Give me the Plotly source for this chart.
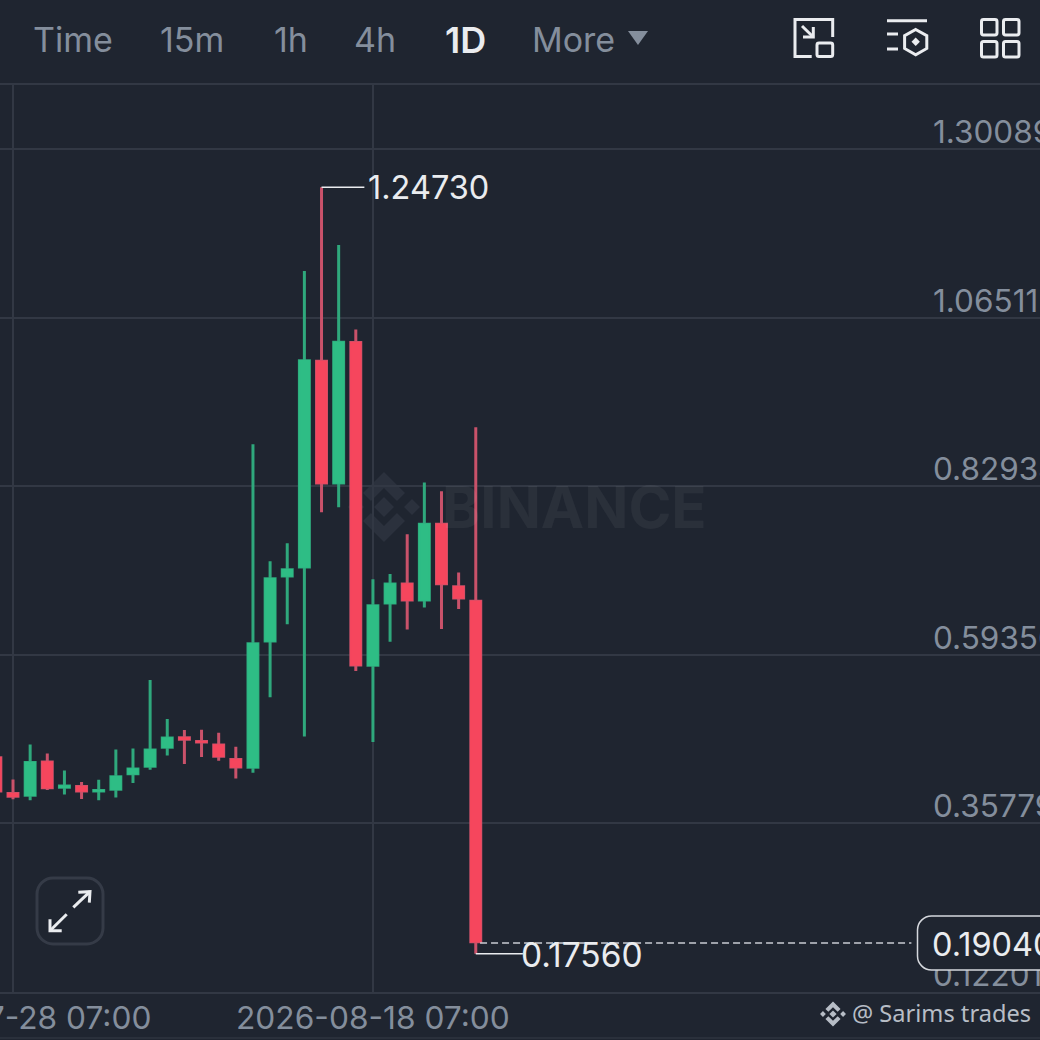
import plotly.graph_objects as go

# ---------- data ----------
dates = ["2026-07-%02d 07:00" % d for d in range(27, 32)] + ["2026-08-%02d 07:00" % d for d in range(1, 25)]
opens = [0.4515, 0.4016, 0.3951, 0.4455, 0.4063, 0.4114, 0.4011, 0.4035, 0.4254, 0.4357, 0.4623, 0.4795, 0.4743, 0.4693, 0.4491,
         0.4343, 0.6110, 0.7020, 0.7146, 1.0061, 0.8321, 1.0322, 0.5770, 0.6642, 0.6946, 0.6684, 0.7780, 0.6908, 0.6702]
highs = [0.4529, 0.4193, 0.4683, 0.4557, 0.4319, 0.4156, 0.4189, 0.4613, 0.4627, 0.5583, 0.5037, 0.4883, 0.4889, 0.4847, 0.4651,
         0.8881, 0.7244, 0.7496, 1.1302, 1.2473, 1.1666, 1.0486, 0.6992, 0.7066, 0.7622, 0.8345, 0.8223, 0.7086, 0.9119]
lows = [0.3983, 0.3914, 0.3900, 0.4044, 0.3983, 0.3918, 0.3900, 0.3941, 0.4142, 0.4329, 0.4529, 0.4407, 0.4505, 0.4455, 0.4207,
        0.4287, 0.5341, 0.6362, 0.4795, 0.7930, 0.7999, 0.5709, 0.4715, 0.6120, 0.6288, 0.6596, 0.6296, 0.6576, 0.1756]
closes = [0.4011, 0.3937, 0.4449, 0.4058, 0.4119, 0.4011, 0.4058, 0.4249, 0.4357, 0.4623, 0.4791, 0.4735, 0.4697, 0.4497, 0.4347,
          0.6110, 0.7020, 0.7146, 1.0066, 0.8321, 1.0327, 0.5775, 0.6642, 0.6946, 0.6684, 0.7780, 0.6912, 0.6712, 0.1904]

price_ticks = [1.30089, 1.06511, 0.82934, 0.59356, 0.35779, 0.12201]
price_labels = ["1.30089", "1.06511", "0.82934", "0.59356", "0.35779", "0.12201"]
date_ticks = ["2026-07-28 07:00", "2026-08-18 07:00"]
date_labels = ["2026-07-28 07:00", "2026-08-18 07:00"]

high_value, high_date, high_label = 1.24730, "2026-08-15 07:00", "1.24730"
low_value, low_date, low_label = 0.17560, "2026-08-24 07:00", "0.17560"
last_value, last_label = 0.19040, "0.19040"
tabs = ["Time", "15m", "1h", "4h", "1D", "More"]
tab_x = [73, 192, 291, 375, 465, 573]

# ---------- styles ----------
BG = "#1f2530"
GRID = "#323844"
GREEN, RED = "#2ebd85", "#f6465d"
MUTED = "#848e9c"
LIGHT = "#eaecef"
FONT = "Inter, Roboto, sans-serif"
W = 1040
STROKE_INSET = 0.0019  # half the candle outline, in price units, so bodies end at their values

def X(p):
    return p / W

def Y(p):
    return 1 - p / W

def pth(pts, close=False):
    s = "M " + " L ".join(f"{X(a):.5f} {Y(b):.5f}" for a, b in pts)
    return s + (" Z" if close else "")

def rrect(x0, y0, x1, y1, r):
    k = 0.45 * r
    c = lambda a, b: f"{X(a):.5f} {Y(b):.5f}"
    return (f"M {c(x0 + r, y0)} L {c(x1 - r, y0)} C {c(x1 - k, y0)} {c(x1, y0 + k)} {c(x1, y0 + r)} "
            f"L {c(x1, y1 - r)} C {c(x1, y1 - k)} {c(x1 - k, y1)} {c(x1 - r, y1)} "
            f"L {c(x0 + r, y1)} C {c(x0 + k, y1)} {c(x0, y1 - k)} {c(x0, y1 - r)} "
            f"L {c(x0, y0 + r)} C {c(x0, y0 + k)} {c(x0 + k, y0)} {c(x0 + r, y0)} Z")

def stroke(path, color=LIGHT, w=3, fill=None, layer="above"):
    return dict(type="path", xref="paper", yref="paper", path=path, layer=layer,
                line=dict(color=color, width=w), fillcolor=fill or "rgba(0,0,0,0)")

def solid(path, color, layer="above"):
    return dict(type="path", xref="paper", yref="paper", path=path, layer=layer,
                line=dict(width=0), fillcolor=color)

def logo(cx, cy, s, color, layer):
    out = []
    d = lambda x, y, h: [(x, y - h), (x + h, y), (x, y + h), (x - h, y)]
    for x, y, h in [(0, 0, 10), (-28, 0, 8), (28, 0, 8)]:
        out.append(solid(pth([(cx + a * s, cy + b * s) for a, b in d(x, y, h)], True), color, layer))
    chev = [(0, -35), (21, -14), (13, -6), (0, -19), (-13, -6), (-21, -14)]
    for sign in (1, -1):
        out.append(solid(pth([(cx + a * s, cy + sign * b * s) for a, b in chev], True), color, layer))
    return out

shapes = []
# watermark logo
shapes += logo(384, 507, 1, "#2b313d", "below")
# leader lines and last price line
shapes.append(dict(type="line", xref="x", yref="y", x0=high_date, x1="2026-08-17 19:00", y0=high_value, y1=high_value,
                   line=dict(color=LIGHT, width=1.5)))
shapes.append(dict(type="line", xref="x", yref="y", x0=low_date, x1="2026-08-27 01:00", y0=low_value, y1=low_value,
                   line=dict(color=LIGHT, width=1.5)))
shapes.append(dict(type="line", xref="x", yref="y", x0="2026-08-24 13:00", x1="2026-09-18 17:00", y0=last_value, y1=last_value,
                   line=dict(color="#c9ccd2", width=1.5, dash="7px,4px")))
# last price box
shapes.append(stroke(rrect(917.5, 916, 1070, 970, 14), "#d5d8dd", 1.5, BG))
# footer border
shapes.append(dict(type="line", xref="paper", yref="paper", x0=0, x1=1, y0=Y(1038), y1=Y(1038), line=dict(color="#2a303b", width=2)))
# icon 1
shapes.append(stroke(pth([(832.7, 37), (832.7, 19.5), (795, 19.5), (795, 56.5), (811.7, 56.5)])))
shapes.append(stroke(pth([(802, 26), (813.3, 37)])))
shapes.append(stroke(pth([(803, 37), (813.3, 37), (813.3, 27)])))
shapes.append(stroke(rrect(817, 43, 832.7, 56.5, 2)))
# icon 2
shapes.append(stroke(pth([(887, 20.7), (927, 20.7)])))
shapes.append(stroke(pth([(887, 34), (898, 34)])))
shapes.append(stroke(pth([(887, 49), (898, 49)])))
shapes.append(stroke(pth([(915.7, 29.5), (926.8, 35.7), (926.8, 48.5), (915.7, 54.8), (904.6, 48.5), (904.6, 35.7)], True)))
shapes.append(solid(pth([(915.7, 37.5), (919.9, 41.7), (915.7, 45.9), (911.5, 41.7)], True), LIGHT))
# icon 3
for x0, x1 in [(981.5, 997), (1003.5, 1019)]:
    for y0, y1 in [(19.5, 35), (41.5, 57)]:
        shapes.append(stroke(rrect(x0, y0, x1, y1, 2)))
# more triangle
shapes.append(solid(pth([(628, 31), (648, 31), (638, 45)], True), MUTED))
# expand button
shapes.append(stroke(rrect(37, 878, 103, 944, 16), "#353b47", 3))
shapes.append(stroke(pth([(73.3, 907.3), (90, 891.7)])))
shapes.append(stroke(pth([(78.3, 892.3), (90, 891.7), (89.3, 902.7)])))
shapes.append(stroke(pth([(66.7, 914.3), (50, 930.7)])))
shapes.append(stroke(pth([(50, 919.3), (50, 930.7), (61.7, 930.7)])))
# footer logo
shapes += logo(833, 1014, 0.36, "#b7bdc6", "above")

def note(text, x, y, size, color, xanchor="center", family=FONT, xref="paper", yref="paper", weight=None):
    return dict(text=text, x=x, y=y, xref=xref, yref=yref, xanchor=xanchor, yanchor="middle", showarrow=False,
                font=dict(family=family, size=size, color=color, weight=weight), borderpad=0)

ann = []
for t, x in zip(tabs, tab_x):
    active = t == "1D"
    ann.append(note(t, X(x), Y(40), 36 if active else 34, LIGHT if active else MUTED, weight=600 if active else 400))
ann.append(note("BINANCE", X(574), Y(507), 58, "rgba(255,255,255,0.05)", weight=700))
ann.append(note(high_label, "2026-08-17 23:00", high_value, 32.5, LIGHT, "left", xref="x", yref="y"))
ann.append(note(low_label, "2026-08-26 21:00", 0.1742, 33.5, LIGHT, "left", xref="x", yref="y"))
ann.append(note(last_label, X(930.5), Y(944), 32.5, LIGHT, "left"))
ann.append(note("@ Sarims trades", X(851), Y(1012.5), 23.6, "#b7bdc6", "left", family="'Noto Sans', sans-serif"))

def inset(o, c):
    # pull each body end in by the outline half-width; very small bodies collapse to their middle
    d = min(STROKE_INSET, abs(o - c) / 2)
    return (o - d, c + d) if o > c else (o + d, c - d)

draw_o, draw_c = zip(*[inset(o, c) for o, c in zip(opens, closes)])
# keep the colour of each candle when a tiny body collapses
draw_c = [c + (1e-6 if oo < cc else -1e-6) for c, oo, cc in zip(draw_c, opens, closes)]

wicks = go.Candlestick(
    x=dates, open=list(draw_o), high=highs, low=lows, close=draw_c,
    increasing=dict(line=dict(color="#2fa87c", width=3), fillcolor=GREEN),
    decreasing=dict(line=dict(color="#c9526a", width=3), fillcolor=RED),
    whiskerwidth=0, hoverinfo="skip", showlegend=False,
)
# bright bodies on top
bodies = go.Candlestick(
    x=dates, open=list(draw_o), close=draw_c,
    high=[max(o, c) for o, c in zip(draw_o, draw_c)],
    low=[min(o, c) for o, c in zip(draw_o, draw_c)],
    increasing=dict(line=dict(color=GREEN, width=1.5), fillcolor=GREEN),
    decreasing=dict(line=dict(color=RED, width=1.5), fillcolor=RED),
    whiskerwidth=0, hoverinfo="skip", showlegend=False,
)
fig = go.Figure([wicks, bodies])
fig.update_layout(
    width=W, height=W, margin=dict(l=0, r=0, t=0, b=0, pad=0),
    paper_bgcolor=BG, plot_bgcolor=BG, showlegend=False, boxgap=0.17, boxmode="overlay",
    font=dict(family=FONT, color=MUTED, size=30),
    shapes=shapes, annotations=ann,
    xaxis=dict(type="date", range=["2026-07-27 12:47", "2026-09-26 05:05"], rangeslider=dict(visible=False),
               domain=[0, 1], tickmode="array", tickvals=date_ticks, ticktext=date_labels, ticks="",
               showgrid=True, gridcolor=GRID, gridwidth=1.5, showline=True, linecolor=GRID, linewidth=1.5, mirror=True,
               zeroline=False, tickfont=dict(family=FONT, size=31.7, color=MUTED), automargin=False,
               ticklabeloverflow="allow", ticklabelstandoff=-3),
    yaxis=dict(range=[0.12201, 1.39045], domain=[48 / W, 1 - 85 / W], side="right", tickmode="array",
               tickvals=price_ticks, ticktext=price_labels, ticks="", ticklabelposition="outside",
               ticklabelstandoff=-108, ticklabelshift=-17, ticklabeloverflow="allow",
               showgrid=True, gridcolor=GRID, gridwidth=1.5, zeroline=False, showline=False,
               tickfont=dict(family=FONT, size=31.5, color=MUTED), automargin=False),
)
fig.write_html("out.html", config=dict(displayModeBar=False),
               post_script="document.body.style.margin='0';document.body.style.overflow='hidden';")
